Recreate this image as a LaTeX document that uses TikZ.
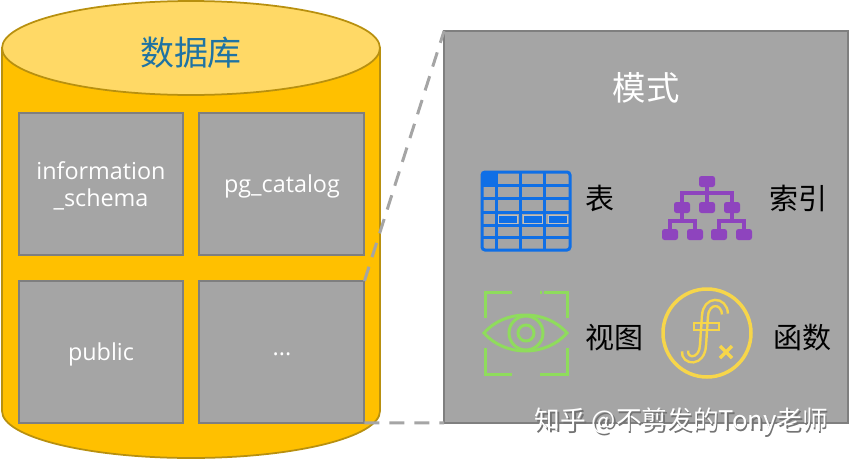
\documentclass[tikz,border=0pt]{standalone}
\usepackage{fontspec}
\setmainfont{Open Sans}
\newfontfamily\cjk{Noto Sans CJK SC}
\usetikzlibrary{positioning,shapes.geometric}
\definecolor{dbgold}{HTML}{FFC000}
\definecolor{dblid}{HTML}{FFD966}
\definecolor{dbedge}{HTML}{B8900F}
\definecolor{dbtitle}{HTML}{1F73A3}
\definecolor{boxgray}{HTML}{A5A5A5}
\definecolor{boxedge}{HTML}{7F7F7F}
\definecolor{tableblue}{HTML}{0F6FE6}
\definecolor{treepurple}{HTML}{8E44BE}
\definecolor{eyegreen}{HTML}{8FDC5C}
\definecolor{fxyellow}{HTML}{F7D64A}
\tikzset{
  lid/.style={ellipse, draw=dbedge, fill=dblid, line width=0.035cm, minimum width=7.56cm, minimum height=1.88cm, inner sep=0pt},
  lidtitle/.style={text=dbtitle, inner sep=0pt, font=\cjk\fontsize{19.3}{23}\selectfont},
  schemabox/.style={draw=boxedge, fill=boxgray, line width=0.04cm, minimum width=3.3cm, minimum height=2.84cm, inner sep=0pt, outer sep=0pt},
  schemalabel/.style={text=white, align=center, yshift=-0.045cm, font=\fontsize{13.3}{15.4}\selectfont},
  panel/.style={draw=boxedge, fill=boxgray, line width=0.04cm, minimum width=8.08cm, minimum height=7.84cm, inner sep=0pt, outer sep=0pt},
  zoomline/.style={draw=boxgray, dashed, line width=0.06cm, dash pattern=on 0.3cm off 0.2cm},
  caption/.style={text=black, inner sep=0pt, font=\cjk\fontsize{16.5}{20}\selectfont},
  treecell/.style={fill=treepurple, rounded corners=0.05cm},
  treeline/.style={draw=treepurple, line width=0.08cm},
  eyeline/.style={draw=eyegreen, line width=0.06cm},
  fxline/.style={draw=fxyellow, line width=0.07cm},
  tableline/.style={draw=tableblue, line width=0.06cm},
  mark shadow/.style={inner sep=0pt, font=\cjk\fontsize{14.6}{17}\selectfont}
}
\begin{document}
\begin{tikzpicture}[x=0.02cm,y=-0.02cm]
\useasboundingbox (0,0) rectangle (850,460);
% cylinder
\draw[draw=dbedge, fill=dbgold, line width=0.035cm] (2,48) -- (2,411)
  .. controls (2,437) and (87,458) .. (191,458)
  .. controls (295,458) and (380,437) .. (380,411) -- (380,48) -- cycle;
\node[lid] (database) at (191,48) {};
\node[lidtitle] (databasetitle) at (191,53) {数据库};
% boxes
\node[schemabox, label={[schemalabel]center:information\\\_schema}] (infoschema) at (101,184) {};
\node[schemabox, right=0.32cm of infoschema, label={[schemalabel]center:pg\_catalog}] (catalog) {};
\node[schemabox, below=0.52cm of infoschema, label={[schemalabel]center:public}] (public) {};
\node[schemabox, right=0.32cm of public, label={[schemalabel]center:...}] (others) {};
% panel
\node[panel] (schema) at (646,227) {};
\node[text=white, inner sep=0pt, font=\cjk\fontsize{19}{23}\selectfont] (schematitle) at (646,88) {模式};
% edges
\draw[zoomline] (others.north east) -- (schema.north west);
\draw[zoomline] (others.south east) -- (schema.south west);
% table icon
\draw[tableline, rounded corners=0.06cm] (482,172) rectangle (570,250);
\fill[tableblue] (482,172) rectangle (496,185);
\foreach \x in {496,520,544} \draw[tableline] (\x,172) -- (\x,250);
\foreach \y in {185,198,212,225,237} \draw[tableline] (482,\y) -- (570,\y);
\foreach \x in {498,523,548} \filldraw[draw=boxgray!70!white, fill=tableblue, line width=0.02cm] (\x,215) rectangle ++(19,8);
\node[caption, anchor=west] (tablelabel) at (585,198) {表};
% tree icon
\draw[treeline] (707,181) -- (707,207);
\draw[treeline] (682,207) -- (682,193) -- (732,193) -- (732,207);
\draw[treeline] (682,207) -- (682,221);
\draw[treeline] (670,234) -- (670,221) -- (695,221) -- (695,234);
\draw[treeline] (719,234) -- (719,221) -- (744,221) -- (744,234);
\draw[treeline] (732,207) -- (732,221);
\fill[treecell] (699,176) rectangle ++(16,11);
\foreach \x in {682,707,732} \fill[treecell] (\x-8,202) rectangle ++(16,11);
\foreach \x in {670,695,719,744} \fill[treecell] (\x-8,229) rectangle ++(16,11);
\node[caption, anchor=west] (indexlabel) at (769,198) {索引};
% eye icon
\draw[eyeline] (512,292) -- (485,292) -- (485,318);
\draw[eyeline] (544,292) -- (567,292) -- (567,318);
\draw[eyeline] (540,292) -- (542,292);
\draw[eyeline] (485,348) -- (485,374) -- (512,374);
\draw[eyeline] (567,348) -- (567,374) -- (540,374);
\draw[eyeline] (484,333) .. controls (505,309) and (546,309) .. (567,333)
  .. controls (546,357) and (505,357) .. (484,333) -- cycle;
\draw[eyeline] (526,333) circle[radius=17];
\draw[eyeline] (526,333) circle[radius=8];
\node[caption, anchor=west] (viewlabel) at (585,338) {视图};
% fx icon
\draw[fxline] (707,333) circle[radius=44];
\draw[fxline, double=boxgray, double distance=0.07cm, line width=0.05cm] (725,314)
  .. controls (724,299) and (706,299) .. (705,316) -- (703,345)
  .. controls (702,364) and (684,362) .. (685,351);
\draw[fxline, line width=0.05cm] (694,323) rectangle (719,330);
\draw[fxline] (720,346) -- (732,358);
\draw[fxline] (732,346) -- (720,358);
\node[caption, anchor=west] (functionlabel) at (773,338) {函数};
% watermark
\node[mark shadow, text=black!55, anchor=west] (markshadow) at (536,423.5) {知乎 @不剪发的Tony老师};
\node[mark shadow, text=white, anchor=west] (mark) at (534.5,421.5) {知乎 @不剪发的Tony老师};
\end{tikzpicture}
\end{document}
